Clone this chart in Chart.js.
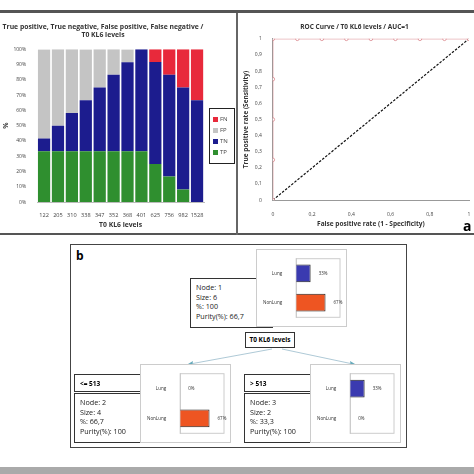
<!DOCTYPE html>
<html><head><meta charset="utf-8">
<script src="https://cdn.jsdelivr.net/npm/chart.js@4/dist/chart.umd.min.js"></script>
<style>
body{margin:0;width:474px;height:474px;background:#fff;position:relative;overflow:hidden;font-family:"Open Sans",sans-serif;}
.abs{position:absolute;box-sizing:border-box;}
.txt{font-size:7.2px;line-height:9.5px;color:#222;padding:4px 5px;}
#leg{position:absolute;left:209px;top:108px;width:26px;height:56px;border:1.5px solid #222;box-sizing:border-box;padding:5px 3px;font-size:6px;color:#444;}
#leg div{height:11px;line-height:11px;white-space:nowrap}
#leg span{display:inline-block;width:5px;height:5px;margin-right:2px;vertical-align:middle}
</style></head><body>
<div class="abs" style="left:0;top:0;width:474px;height:13px;background:#fff;border-bottom:3px solid #555"></div>
<div class="abs" style="left:0;top:13px;width:474px;height:222px;border-bottom:2px solid #555"></div>
<div class="abs" style="left:236px;top:13px;width:2px;height:222px;background:#666"></div>
<div class="abs" style="left:0;top:13px;width:236px;height:221px"><canvas id="c1"></canvas></div>
<div id="leg"></div>
<div class="abs" style="left:238px;top:13px;width:236px;height:221px"><canvas id="c2"></canvas></div>
<div class="abs" style="left:463px;top:216px;font-size:14px;font-weight:bold">a</div>

<div class="abs" style="left:70px;top:244px;width:337px;height:204px;border:1.5px solid #444"></div>
<div class="abs" style="left:76px;top:247px;font-size:12px;font-weight:bold">b</div>

<div class="abs txt" style="left:190px;top:278px;width:83px;height:50px;border:1.5px solid #333">Node: 1<br>Size: 6<br>%: 100<br>Purity(%): 66,7</div>
<div class="abs" style="left:256px;top:249px;width:91px;height:78px;border:1px solid #ccc;background:#fff"><canvas id="n1"></canvas></div>
<div class="abs" style="left:245px;top:332px;width:50px;height:16px;border:1.5px solid #333;font-size:6.5px;font-weight:bold;text-align:center;line-height:13px">T0 KL6 levels</div>
<svg class="abs" style="left:0;top:0" width="474" height="474">
<line x1="272" y1="349" x2="190" y2="364" stroke="#9bc" stroke-width="0.8"/>
<line x1="282" y1="349" x2="353" y2="364" stroke="#9bc" stroke-width="0.8"/>
<polygon points="188,364 193,361 192,366" fill="#6ab"/>
<polygon points="355,364 350,361 351,366" fill="#6ab"/>
</svg>

<div class="abs" style="left:74px;top:374px;width:68px;height:18px;border:1.5px solid #333;font-size:6.5px;font-weight:bold;padding:4px 5px">&lt;= 513</div>
<div class="abs txt" style="left:74px;top:393px;width:84px;height:50px;border:1.5px solid #333">Node: 2<br>Size: 4<br>%: 66,7<br>Purity(%): 100</div>
<div class="abs" style="left:140px;top:364px;width:91px;height:79px;border:1px solid #ccc;background:#fff"><canvas id="n2"></canvas></div>

<div class="abs" style="left:244px;top:374px;width:68px;height:18px;border:1.5px solid #333;font-size:6.5px;font-weight:bold;padding:4px 5px">&gt; 513</div>
<div class="abs txt" style="left:244px;top:393px;width:84px;height:50px;border:1.5px solid #333">Node: 3<br>Size: 2<br>%: 33,3<br>Purity(%): 100</div>
<div class="abs" style="left:310px;top:364px;width:91px;height:79px;border:1px solid #ccc;background:#fff"><canvas id="n3"></canvas></div>

<div class="abs" style="left:0;top:467px;width:474px;height:7px;background:#aaa"></div>
<script>
const kl6Levels=['122','205','310','338','347','352','368','401','625','756','982','1528'];
const tpVals=[33.3,33.3,33.3,33.3,33.3,33.3,33.3,33.3,25,16.7,8.3,0];
const tnVals=[8.3,16.7,25,33.3,41.7,50,58.3,66.7,66.7,66.7,66.7,66.7];
const fpVals=[58.3,50,41.7,33.3,25,16.7,8.3,0,0,0,0,0];
const fnVals=[0,0,0,0,0,0,0,0,8.3,16.7,25,33.3];
const rocFpr=[0,0,0,0,0,0.125,0.25,0.375,0.5,0.625,0.75,0.875,1];
const rocTpr=[0,0.25,0.5,0.75,1,1,1,1,1,1,1,1,1];
const diagX=[0,1], diagY=[0,1];
const nodeClasses=['Lung','NonLung'];
const node1=[33,67], node2=[0,67], node3=[33,0];

Chart.defaults.font.family='"Open Sans", sans-serif';
Chart.defaults.color='#444';
Chart.defaults.animation=false;
const fmt=v=>String(v).replace('.',',');

const ds1=[
{label:'TP',data:tpVals,backgroundColor:'#2f8f2f'},
{label:'TN',data:tnVals,backgroundColor:'#1c1c8e'},
{label:'FP',data:fpVals,backgroundColor:'#c4c4c4'},
{label:'FN',data:fnVals,backgroundColor:'#e8293b'}];
document.getElementById('leg').innerHTML=ds1.slice().reverse().map(d=>`<div><span style="background:${d.backgroundColor}"></span>${d.label}</div>`).join('');

new Chart(document.getElementById('c1'),{type:'bar',
data:{labels:kl6Levels,datasets:ds1},
options:{responsive:true,maintainAspectRatio:false,
layout:{padding:{left:2,right:32,top:2,bottom:5}},
datasets:{bar:{barPercentage:0.88,categoryPercentage:1}},
plugins:{title:{display:true,text:['True positive, True negative, False positive, False negative /','T0 KL6 levels'],font:{size:6.8,weight:'bold'},color:'#333',padding:{top:8,bottom:10}},
legend:{display:false},tooltip:{enabled:false}},
scales:{x:{stacked:true,grid:{display:false},border:{color:'#bbb'},ticks:{font:{size:5.6},maxRotation:0,autoSkip:false,padding:2},title:{display:true,text:'T0 KL6 levels',font:{size:6.8,weight:'bold'},color:'#333',padding:0}},
y:{stacked:true,min:0,max:100,grid:{display:false},border:{display:false},ticks:{stepSize:10,font:{size:5},callback:v=>v+'%'},title:{display:true,text:'%',font:{size:7,weight:'bold'},padding:0}}}}});

new Chart(document.getElementById('c2'),{type:'scatter',
data:{datasets:[
{data:rocFpr.map((x,i)=>({x,y:rocTpr[i]})),showLine:true,borderColor:'#d9848a',borderWidth:1,pointRadius:1.8,pointBackgroundColor:'#fff',pointBorderColor:'#d9848a',pointBorderWidth:0.8},
{data:diagX.map((x,i)=>({x,y:diagY[i]})),showLine:true,borderColor:'#111',borderWidth:1.2,borderDash:[2.5,1.5],pointRadius:0}]},
options:{responsive:true,maintainAspectRatio:false,
layout:{padding:{left:2,right:5,top:2,bottom:6}},
plugins:{legend:{display:false},tooltip:{enabled:false},title:{display:true,text:'ROC Curve / T0 KL6 levels / AUC=1',font:{size:6.5,weight:'bold'},color:'#333',padding:{top:8,bottom:8}}},
scales:{x:{min:0,max:1,grid:{display:false},border:{color:'#999'},ticks:{stepSize:0.2,font:{size:5},callback:v=>fmt(+v.toFixed(1))},title:{display:true,text:'False positive rate (1 - Specificity)',font:{size:6.5,weight:'bold'},color:'#333',padding:0}},
y:{min:0,max:1,grid:{display:false},border:{color:'#999'},ticks:{stepSize:0.1,font:{size:5},callback:v=>fmt(+v.toFixed(1))},title:{display:true,text:'True positive rate (Sensitivity)',font:{size:6.5,weight:'bold'},color:'#333',padding:2}}}}});

const pctLabels={id:'pl',afterDatasetsDraw(c){const x=c.ctx;const m=c.getDatasetMeta(0);x.save();x.font='4.5px "Open Sans"';x.fillStyle='#333';x.textBaseline='middle';
m.data.forEach((b,i)=>{const v=c.data.datasets[0].data[i];x.fillText(v+'%',Math.max(b.x,c.chartArea.left)+8,b.y);});x.restore();}};
function node(id,vals){new Chart(document.getElementById(id),{type:'bar',
data:{labels:nodeClasses,datasets:[{data:vals,backgroundColor:['#3a3ab0','#ee5522'],borderColor:'#222',borderWidth:1,barPercentage:0.6,categoryPercentage:1}]},
options:{indexAxis:'y',responsive:true,maintainAspectRatio:false,layout:{padding:{top:5,bottom:5,right:6}},
plugins:{legend:{display:false},tooltip:{enabled:false}},
scales:{x:{min:0,max:100,display:false},y:{grid:{display:false},border:{color:'#ccc'},ticks:{font:{size:4.5},color:'#333',padding:6}}}},
plugins:[pctLabels,{id:'fr',beforeDraw(c){const a=c.chartArea,x=c.ctx;x.save();x.strokeStyle='#ccc';x.lineWidth=1;x.strokeRect(a.left,a.top,a.width,a.height);x.restore();}}]});}
node('n1',node1);node('n2',node2);node('n3',node3);
</script></body></html>
